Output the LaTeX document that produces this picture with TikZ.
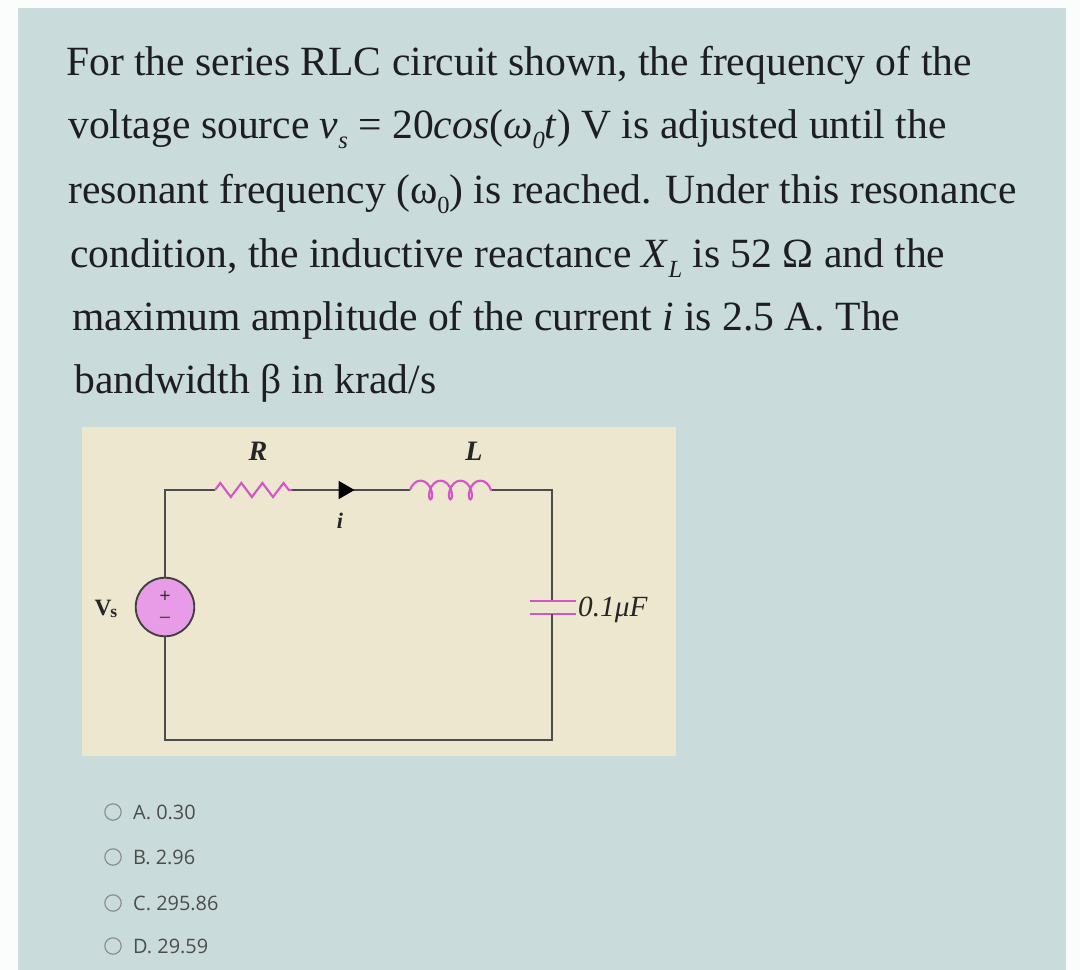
\documentclass[tikz,border=0pt]{standalone}
\usepackage{fontspec}
\setmainfont{Liberation Serif}
\newfontfamily\optfont{Open Sans}
\usetikzlibrary{decorations.pathmorphing,arrows.meta,shapes.geometric}
\definecolor{bgc}{HTML}{C9DCDB}
\definecolor{panel}{HTML}{EDE7CF}
\definecolor{pinkc}{HTML}{D455C8}
\definecolor{srcfill}{HTML}{E89BE6}
\definecolor{txt}{HTML}{1E1E22}
\newcommand{\sbs}[1]{\raisebox{-0.25em}{\fontsize{21}{21}\selectfont #1}}
\tikzset{
  q/.style={anchor=base west,inner sep=0,text=txt,font=\fontsize{35.5}{35.5}\selectfont},
  opt/.style={anchor=west,inner sep=0,text=black!70,font=\optfont\fontsize{17}{17}\selectfont},
  radio/.style={circle,draw=black!45,line width=1pt,minimum size=14pt,inner sep=0},
  wire/.style={draw=black!70,line width=2pt},
  comp/.style={draw=pinkc,line width=1.8pt},
  lbl/.style={inner sep=0,text=black!85}
}
\begin{document}
\begin{tikzpicture}[x=0.03cm,y=-0.03cm]
\useasboundingbox (0,0) rectangle (1080,970);
\fill[white!92!bgc] (0,0) rectangle (1080,970);
\fill[bgc] (18,8) rectangle (1066,970);
\fill[panel] (82,427) rectangle (676,756);
% question text
\node[q] (l1) at (66,75) {For the series RLC circuit shown, the frequency of the};
\node[q] (l2) at (68,138) {voltage source \textit{v}\sbs{\textit{s}} = 20\textit{cos}(\textit{ω}\sbs{\textit{0}}\textit{t}) V is adjusted until the};
\node[q] (l3) at (68,203) {resonant frequency (ω\sbs{0}) is reached. Under this resonance};
\node[q] (l4) at (70,267) {condition, the inductive reactance \textit{X}\sbs{\textit{L}} is 52 Ω and the};
\node[q] (l5) at (72,330) {maximum amplitude of the current \textit{i} is 2.5 A. The};
\node[q] (l6) at (74,393) {bandwidth β in krad/s};
% circuit
\coordinate (tl) at (165,490);
\coordinate (tr) at (552,490);
\coordinate (bl) at (165,740);
\coordinate (br) at (552,740);
\node[circle,draw=black!75,fill=srcfill,line width=1.6pt,minimum size=50pt,inner sep=0] (src) at (165,607) {};
\node[lbl,text=black!80,font=\bfseries\fontsize{17}{17}\selectfont] (pl) at (165,597) {+};
\node[lbl,text=black!70,font=\bfseries\fontsize{17}{17}\selectfont] (mi) at (165,620) {--};
\coordinate (r1) at (215,490);
\coordinate (r2) at (292,490);
\coordinate (l1a) at (410,490);
\coordinate (l2a) at (492,490);
\coordinate (c1) at (552,601);
\coordinate (c2) at (552,614);
\draw[wire] (src.north) -- (tl) -- (r1);
\draw[comp,decorate,decoration={zigzag,segment length=18,amplitude=6}] (r1) -- (r2);
\draw[wire] (r2) -- (l1a);
\draw[comp,decorate,decoration={coil,aspect=0.6,segment length=17,amplitude=8}] (l1a) -- (l2a);
\draw[wire] (l2a) -- (tr) -- (c1);
\draw[comp] (530,601) -- (576,601);
\draw[comp] (530,614) -- (576,614);
\draw[wire] (c2) -- (br) -- (bl) -- (src.south);
\node[regular polygon,regular polygon sides=3,shape border rotate=-90,fill=black,inner sep=0,minimum size=18pt] (arr) at (344,490) {};
\node[lbl,font=\bfseries\itshape\fontsize{24}{24}\selectfont] (R) at (258,451) {R};
\node[lbl,font=\bfseries\itshape\fontsize{24}{24}\selectfont] (L) at (474,451) {L};
\node[lbl,font=\bfseries\itshape\fontsize{19}{19}\selectfont] (i) at (340,521) {i};
\node[lbl,font=\bfseries\fontsize{20}{20}\selectfont] (vs) at (106,609) {V\kern-1pt\raisebox{-2pt}{\fontsize{15}{15}\selectfont s}};
\node[lbl,anchor=west,font=\itshape\fontsize{25}{25}\selectfont] (cap) at (578,610) {0.1μF};
% options
\foreach \y/\t in {812/A. 0.30, 857/B. 2.96, 903/C. 295.86, 946/D. 29.59}{
  \node[radio] at (113,\y) {};
  \node[opt] at (133,\y) {\t};
}
\end{tikzpicture}
\end{document}
